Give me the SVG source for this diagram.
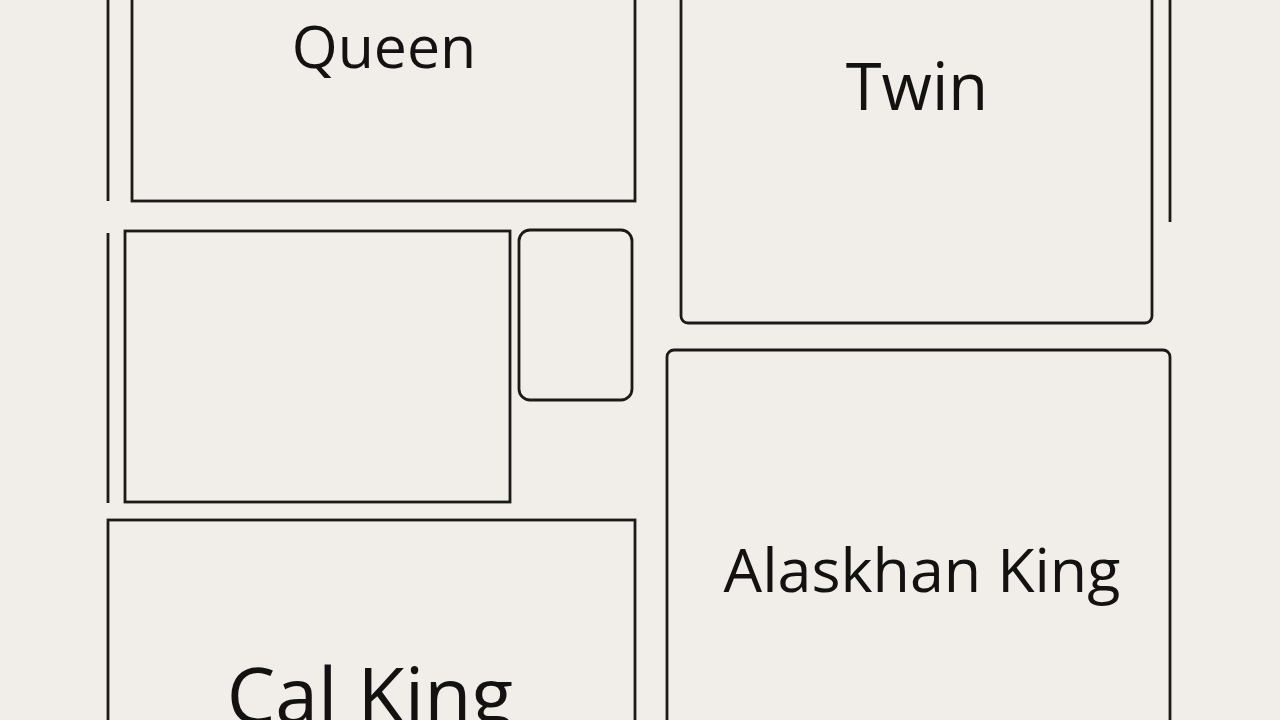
<svg xmlns="http://www.w3.org/2000/svg" width="1280" height="720" viewBox="0 0 1280 720">
<style>
.b{fill:none;stroke:#1c1a18;stroke-width:2.8}
.l{stroke:#1c1a18;stroke-width:2.8;fill:none}
.t{font-family:"Open Sans","Noto Sans",sans-serif;font-weight:500;fill:#141210;text-anchor:middle}
</style>
<rect width="1280" height="720" fill="#f1eee9"/>
<g id="lines">
<line class="l" x1="108" y1="0" x2="108" y2="201"/>
<line class="l" x1="108" y1="233" x2="108" y2="503"/>
<line class="l" x1="1170" y1="0" x2="1170" y2="222"/>
</g>
<g id="queen">
<rect class="b" x="132" y="-10" width="503" height="211"/>
<text class="t" x="384" y="68" font-size="59">Queen</text>
</g>
<g id="twin">
<rect class="b" x="681" y="-10" width="471" height="333" rx="7"/>
<text class="t" x="917" y="110" font-size="65">Twin</text>
</g>
<g id="mid">
<rect class="b" x="125" y="231" width="385" height="271"/>
</g>
<g id="small">
<rect class="b" x="519" y="230" width="113" height="170" rx="11"/>
</g>
<g id="calking">
<rect class="b" x="108" y="520" width="527" height="220"/>
<text class="t" x="370" y="723" font-size="77">Cal King</text>
</g>
<g id="alaskhan">
<rect class="b" x="667" y="350" width="503" height="390" rx="7"/>
<text class="t" x="922" y="592" font-size="61">Alaskhan King</text>
</g>
</svg>
